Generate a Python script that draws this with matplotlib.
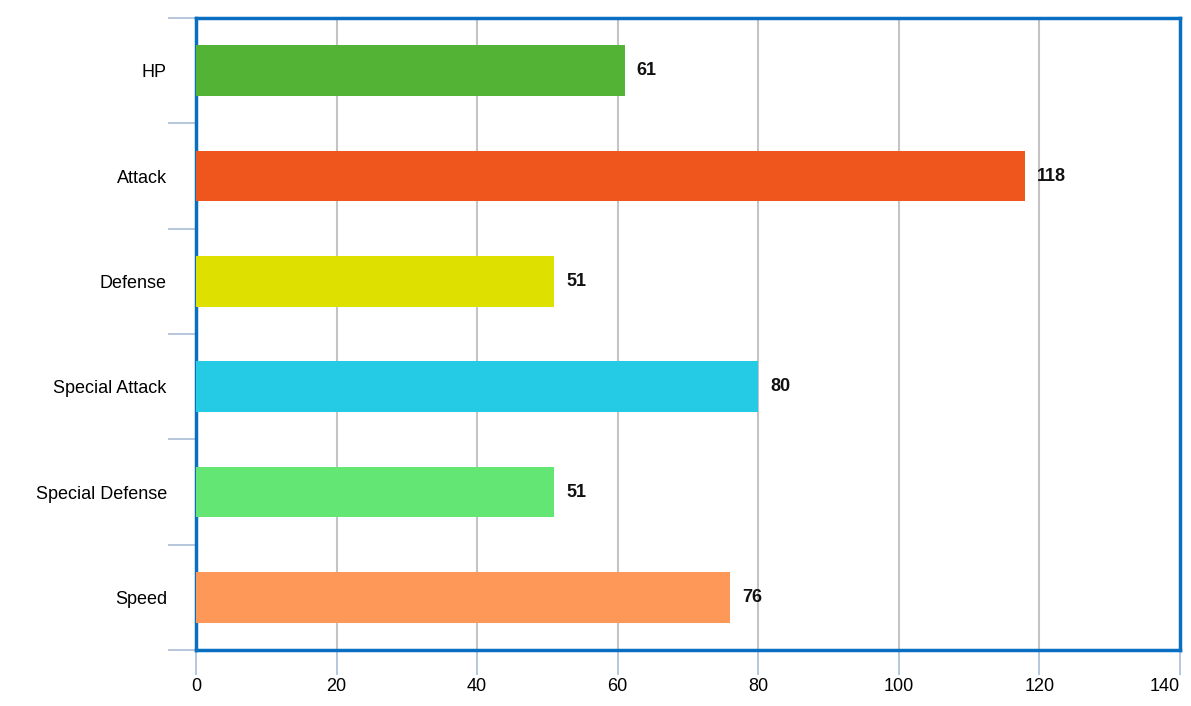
import matplotlib
matplotlib.use("Agg")
import matplotlib.pyplot as plt
from matplotlib.ticker import FixedLocator

stats = ["HP", "Attack", "Defense", "Special Attack", "Special Defense", "Speed"]
values = [61, 118, 51, 80, 51, 76]
colors = ["#52B334", "#EE561E", "#DEE100", "#25CBE5", "#63E673", "#FE9859"]
xticks = [0, 20, 40, 60, 80, 100, 120, 140]

plt.rcParams['font.family'] = ['Liberation Sans', 'DejaVu Sans']

fig = plt.figure(figsize=(11.91, 7.06), dpi=100)
ax = fig.add_axes([196 / 1191, 1 - 650 / 706, 984 / 1191, 632 / 706])

pos = list(range(len(stats)))
ax.barh(pos, values, height=0.48, color=colors, zorder=3)
for p, v in zip(pos, values):
    ax.text(v + 1.7, p, str(v), va="center", ha="left", fontsize=13,
            fontweight="bold", color="#111111", zorder=4)

ax.set_xlim(0, 140)
ax.set_ylim(len(stats) - 0.5, -0.5)
ax.set_xticks(xticks)
ax.set_xticklabels([str(t) for t in xticks], fontsize=13)
ax.get_xticklabels()[-1].set_horizontalalignment("right")
ax.set_yticks(pos)
ax.set_yticklabels(stats, fontsize=13)
ax.tick_params(axis="y", length=0, pad=21)
ax.yaxis.set_minor_locator(FixedLocator([p - 0.5 for p in range(len(stats) + 1)]))
ax.tick_params(axis="y", which="minor", length=20, color="#A9BCD6", width=1.2)
ax.tick_params(axis="x", length=18, color="#A9BCD6", width=1.2, pad=2)

for t in xticks[1:-1]:
    ax.axvline(t, color="#C4C4C4", lw=1.5, zorder=1)

for s in ax.spines.values():
    s.set_color("#0B6FC1")
    s.set_linewidth(2.5)

fig.savefig("out.png", dpi=100)
